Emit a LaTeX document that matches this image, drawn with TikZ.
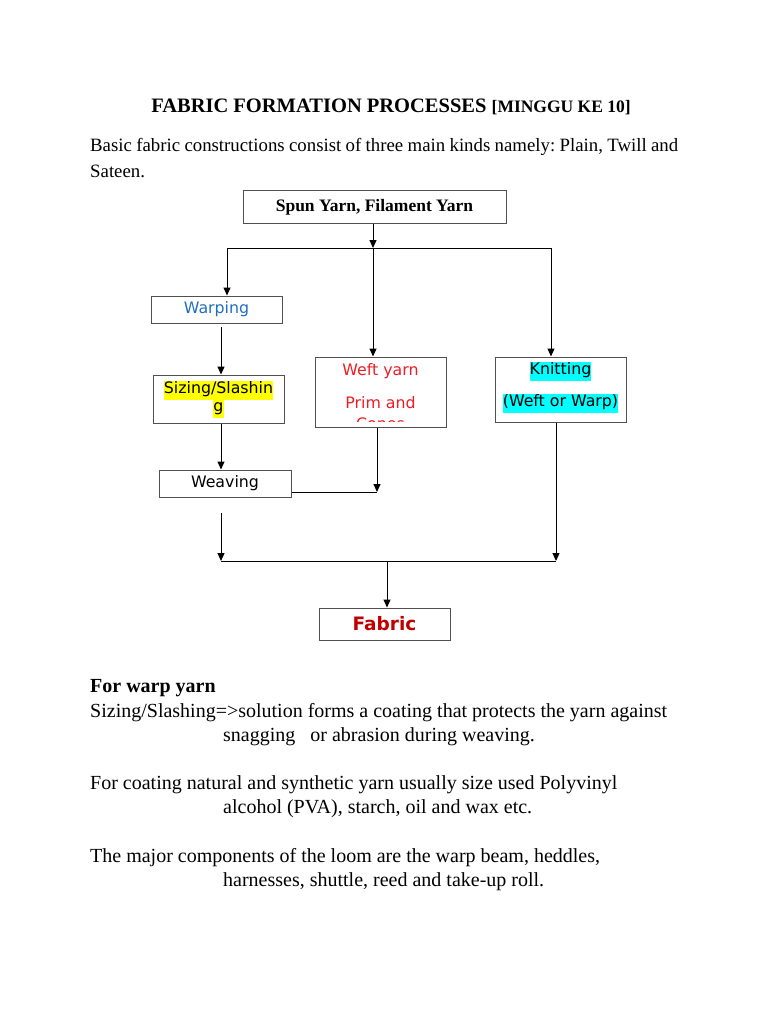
\documentclass[tikz,border=0pt]{standalone}
\usepackage{fontspec}
\setmainfont{Liberation Serif}
\newfontfamily\boxfont{DejaVu Sans}
\usetikzlibrary{arrows.meta}
\definecolor{boxline}{HTML}{505050}
\definecolor{warpblue}{HTML}{1F6FC0}
\definecolor{weftred}{HTML}{EE1C25}
\definecolor{fabred}{HTML}{C00000}
\definecolor{hlcyan}{HTML}{00FFFF}
\definecolor{hlyellow}{HTML}{FFFF00}
\newcommand{\hl}[2]{{\setlength{\fboxsep}{0pt}\colorbox{#1}{\strut #2}}}
\frenchspacing
\begin{document}
\begin{tikzpicture}[x=1pt,y=-1pt,
  pbox/.style={draw=boxline,line width=1pt,inner sep=0pt,minimum width=131pt,align=center,font=\boxfont\fontsize{15.8}{19}\selectfont},
  conn/.style={draw=black,line width=1pt},
  arr/.style={conn,-{Triangle[length=8pt,width=7pt]}},
  body/.style={anchor=base west,inner sep=0pt,font=\fontsize{20}{24}\selectfont}]
\useasboundingbox (0,0) rectangle (768,1024);
% title
\node[inner sep=0pt,anchor=base] (title) at (391,113) {\fontsize{20.5}{24}\selectfont\bfseries FABRIC FORMATION PROCESSES {\fontsize{17.5}{20}\selectfont[MINGGU KE 10]}};
\node[inner sep=0pt,anchor=base west,text width=588pt,align=justify,font=\fontsize{18.8}{26}\selectfont] (intro) at (90,151.5) {Basic fabric constructions consist of three main kinds namely: Plain, Twill and\linebreak Sateen.};
% boxes
\node[pbox,minimum width=263pt,minimum height=33pt,font=\fontsize{17.5}{20}\selectfont\bfseries] (spun) at (374.5,207.5) {Spun Yarn, Filament Yarn};
\node[pbox,minimum height=27pt,text=warpblue] (warping) at (216.5,309.5) {Warping};
\node[pbox,minimum height=48pt] (sizing) at (218.5,399) {\hl{hlyellow}{Sizing/Slashin}\\[-1pt]\hl{hlyellow}{g}};
\node[pbox,minimum height=70pt] (weft) at (380.5,392) {};
\node[pbox,minimum height=65pt] (knit) at (560.5,389.5) {};
\node[pbox,minimum height=27pt,minimum width=132pt] (weaving) at (225,483.5) {Weaving};
\node[pbox,minimum height=32pt,text=fabred,font=\boxfont\fontsize{18.5}{22}\selectfont\bfseries] (fabric) at (384.5,624) {Fabric};
% texts in weft and knitting boxes
\node[inner sep=0pt,text=weftred,font=\boxfont\fontsize{15.8}{19}\selectfont] (weft1) at (380.5,371) {Weft yarn};
\node[inner sep=0pt,text=weftred,font=\boxfont\fontsize{15.8}{19}\selectfont] (weft2) at (380.5,403) {Prim and};
\begin{scope}
\clip (316,358) rectangle (445,421.5);
\node[inner sep=0pt,text=weftred,font=\boxfont\fontsize{15.8}{19}\selectfont] (weft3) at (380.5,423.5) {Cones};
\end{scope}
\node[inner sep=0pt,font=\boxfont\fontsize{15.8}{19}\selectfont] (knit1) at (560.5,371) {\hl{hlcyan}{Knitting}};
\node[inner sep=0pt,font=\boxfont\fontsize{15.8}{19}\selectfont] (knit2) at (560.5,403) {\hl{hlcyan}{(Weft or Warp)}};
% junction coordinates
\coordinate (jt) at (373,248);
\coordinate (jl) at (227,248);
\coordinate (jr) at (551,248);
\coordinate (ws) at (221,327);
\coordinate (wm) at (377,492);
\coordinate (vs) at (221,513);
\coordinate (bl) at (221,561);
\coordinate (br) at (556,561);
\coordinate (bm) at (387,561);
% connectors
\draw[arr] (spun.south -| jt) -- (jt);
\draw[conn] (jl) -- (jr);
\draw[arr] (jl) -- (warping.north -| jl);
\draw[arr] (jt) -- (weft.north -| jt);
\draw[arr] (jr) -- (knit.north -| jr);
\draw[arr] (ws) -- (sizing.north -| ws);
\draw[arr] (sizing.south -| ws) -- (weaving.north -| ws);
\draw[arr] (weft.south -| wm) -- (wm);
\draw[conn] (weaving.east |- wm) -- (wm);
\draw[arr] (vs) -- (bl);
\draw[arr] (knit.south -| br) -- (br);
\draw[conn] (bl) -- (br);
\draw[arr] (bm) -- (fabric.north -| bm);
% lower text
\node[body,font=\fontsize{20}{24}\selectfont\bfseries] (t1) at (90,692) {For warp yarn};
\node[body] (t2) at (90,717) {Sizing/Slashing=>solution forms a coating that protects the yarn against};
\node[body] (t3) at (223,741) {snagging\ \ \ or abrasion during weaving.};
\node[body] (t4) at (90,789) {For coating natural and synthetic yarn usually size used Polyvinyl};
\node[body] (t5) at (223,813) {alcohol (PVA), starch, oil and wax etc.};
\node[body] (t6) at (90,862) {The major components of the loom are the warp beam, heddles,};
\node[body] (t7) at (223,886) {harnesses, shuttle, reed and take-up roll.};
\end{tikzpicture}
\end{document}
